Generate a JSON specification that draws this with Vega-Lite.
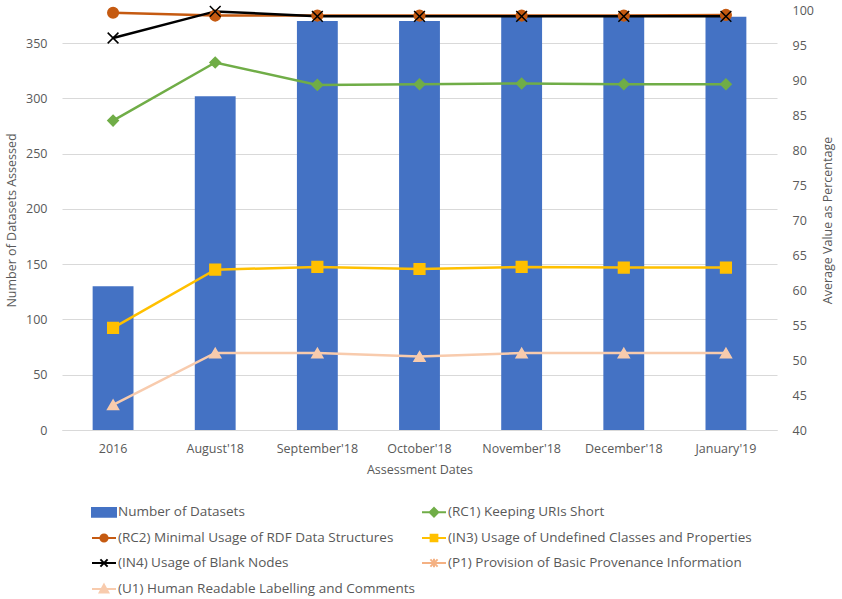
{
  "$schema": "https://vega.github.io/schema/vega-lite/v6.json",
  "width": 715,
  "height": 420,
  "autosize": "none",
  "padding": {"left": 62, "top": 10, "right": 65, "bottom": 169},
  "background": "white",
  "config": {
    "view": {"stroke": null},
    "font": "Open Sans",
    "axis": {"labelFont": "Open Sans", "titleFont": "Open Sans", "labelColor": "#595959", "titleColor": "#595959", "labelFontSize": 12.5, "titleFontSize": 12.5, "titleFontWeight": "normal", "ticks": false}
  },
  "data": {
    "values": [
      {"date": "2016", "series": "Number of Datasets", "value": 130},
      {"date": "August'18", "series": "Number of Datasets", "value": 302},
      {"date": "September'18", "series": "Number of Datasets", "value": 370},
      {"date": "October'18", "series": "Number of Datasets", "value": 370},
      {"date": "November'18", "series": "Number of Datasets", "value": 374},
      {"date": "December'18", "series": "Number of Datasets", "value": 374},
      {"date": "January'19", "series": "Number of Datasets", "value": 374},
      {"date": "2016", "series": "(RC1) Keeping URIs Short", "value": 84.2},
      {"date": "August'18", "series": "(RC1) Keeping URIs Short", "value": 92.5},
      {"date": "September'18", "series": "(RC1) Keeping URIs Short", "value": 89.3},
      {"date": "October'18", "series": "(RC1) Keeping URIs Short", "value": 89.4},
      {"date": "November'18", "series": "(RC1) Keeping URIs Short", "value": 89.5},
      {"date": "December'18", "series": "(RC1) Keeping URIs Short", "value": 89.4},
      {"date": "January'19", "series": "(RC1) Keeping URIs Short", "value": 89.4},
      {"date": "2016", "series": "(RC2) Minimal Usage of RDF Data Structures", "value": 99.6},
      {"date": "August'18", "series": "(RC2) Minimal Usage of RDF Data Structures", "value": 99.2},
      {"date": "September'18", "series": "(RC2) Minimal Usage of RDF Data Structures", "value": 99.2},
      {"date": "October'18", "series": "(RC2) Minimal Usage of RDF Data Structures", "value": 99.2},
      {"date": "November'18", "series": "(RC2) Minimal Usage of RDF Data Structures", "value": 99.2},
      {"date": "December'18", "series": "(RC2) Minimal Usage of RDF Data Structures", "value": 99.2},
      {"date": "January'19", "series": "(RC2) Minimal Usage of RDF Data Structures", "value": 99.3},
      {"date": "2016", "series": "(IN3) Usage of Undefined Classes and Properties", "value": 54.6},
      {"date": "August'18", "series": "(IN3) Usage of Undefined Classes and Properties", "value": 62.9},
      {"date": "September'18", "series": "(IN3) Usage of Undefined Classes and Properties", "value": 63.3},
      {"date": "October'18", "series": "(IN3) Usage of Undefined Classes and Properties", "value": 63.0},
      {"date": "November'18", "series": "(IN3) Usage of Undefined Classes and Properties", "value": 63.3},
      {"date": "December'18", "series": "(IN3) Usage of Undefined Classes and Properties", "value": 63.2},
      {"date": "January'19", "series": "(IN3) Usage of Undefined Classes and Properties", "value": 63.2},
      {"date": "2016", "series": "(IN4) Usage of Blank Nodes", "value": 96.0},
      {"date": "August'18", "series": "(IN4) Usage of Blank Nodes", "value": 99.8},
      {"date": "September'18", "series": "(IN4) Usage of Blank Nodes", "value": 99.1},
      {"date": "October'18", "series": "(IN4) Usage of Blank Nodes", "value": 99.1},
      {"date": "November'18", "series": "(IN4) Usage of Blank Nodes", "value": 99.1},
      {"date": "December'18", "series": "(IN4) Usage of Blank Nodes", "value": 99.1},
      {"date": "January'19", "series": "(IN4) Usage of Blank Nodes", "value": 99.1},
      {"date": "2016", "series": "(U1) Human Readable Labelling and Comments", "value": 43.6},
      {"date": "August'18", "series": "(U1) Human Readable Labelling and Comments", "value": 51.0},
      {"date": "September'18", "series": "(U1) Human Readable Labelling and Comments", "value": 51.0},
      {"date": "October'18", "series": "(U1) Human Readable Labelling and Comments", "value": 50.5},
      {"date": "November'18", "series": "(U1) Human Readable Labelling and Comments", "value": 51.0},
      {"date": "December'18", "series": "(U1) Human Readable Labelling and Comments", "value": 51.0},
      {"date": "January'19", "series": "(U1) Human Readable Labelling and Comments", "value": 51.0}
    ]
  },
  "encoding": {
    "x": {
      "field": "date", "type": "nominal",
      "sort": ["2016", "August'18", "September'18", "October'18", "November'18", "December'18", "January'19"],
      "scale": {"paddingInner": 0.6, "paddingOuter": 0.3},
      "axis": {"labelAngle": 0, "title": "Assessment Dates", "domainColor": "#D9D9D9", "labelPadding": 12, "titlePadding": 9}
    },
    "color": {
      "field": "series", "type": "nominal",
      "scale": {
        "domain": ["Number of Datasets", "(RC2) Minimal Usage of RDF Data Structures", "(IN4) Usage of Blank Nodes", "(U1) Human Readable Labelling and Comments", "(RC1) Keeping URIs Short", "(IN3) Usage of Undefined Classes and Properties", "(P1) Provision of Basic Provenance Information"],
        "range": ["#4472C4", "#C55A11", "#000000", "#F8CBAD", "#70AD47", "#FFC000", "#F4B183"]
      },
      "legend": {
        "title": null,
        "orient": "none",
        "legendX": 29,
        "legendY": 489,
        "columns": 2,
        "columnPadding": 3,
        "rowPadding": 4,
        "symbolSize": 576,
        "symbolStrokeWidth": 2,
        "labelFont": "Open Sans",
        "labelFontSize": 13.5,
        "labelColor": "#595959",
        "labelOffset": 1,
        "labelLimit": 400,
        "encode": {
          "symbols": {
            "update": {
              "shape": {"signal": "datum.value === 'Number of Datasets' ? 'M-1,-0.36H1V0.36H-1Z' : datum.value === '(RC1) Keeping URIs Short' ? 'M-1,0H1M0,-0.36L0.36,0L0,0.36L-0.36,0Z' : datum.value === '(RC2) Minimal Usage of RDF Data Structures' ? 'M-1,0H1M0.3,0A0.3,0.3,0,1,1,-0.3,0A0.3,0.3,0,1,1,0.3,0Z' : datum.value === '(IN3) Usage of Undefined Classes and Properties' ? 'M-1,0H1M-0.28,-0.28H0.28V0.28H-0.28Z' : datum.value === '(IN4) Usage of Blank Nodes' ? 'M-1,0H1M-0.3,-0.3L0.3,0.3M-0.3,0.3L0.3,-0.3' : datum.value === '(P1) Provision of Basic Provenance Information' ? 'M-1,0H1M0,-0.36V0.36M-0.3,-0.3L0.3,0.3M-0.3,0.3L0.3,-0.3' : 'M-1,0H1M0,-0.36L0.36,0.3H-0.36Z'"},
              "fill": {"signal": "scale('color', datum.value)"},
              "stroke": {"signal": "scale('color', datum.value)"},
              "strokeWidth": {"value": 2},
              "opacity": {"value": 1}
            }
          }
        }
      }
    }
  },
  "layer": [
    {
      "transform": [{"filter": "datum.series === 'Number of Datasets'"}],
      "mark": {"type": "bar", "color": "#4472C4"},
      "encoding": {
        "y": {
          "field": "value", "type": "quantitative",
          "scale": {"domain": [0, 380], "nice": false},
          "axis": {"orient": "left", "title": "Number of Datasets Assessed", "values": [0, 50, 100, 150, 200, 250, 300, 350], "grid": true, "gridColor": "#D9D9D9", "domain": false, "labelPadding": 15, "titlePadding": 7}
        }
      }
    },
    {
      "transform": [{"filter": "datum.series !== 'Number of Datasets'"}],
      "encoding": {
        "y": {
          "field": "value", "type": "quantitative",
          "scale": {"domain": [40, 100], "nice": false},
          "axis": {"orient": "right", "title": "Average Value as Percentage", "titleAngle": 270, "values": [40, 45, 50, 55, 60, 65, 70, 75, 80, 85, 90, 95, 100], "grid": false, "domain": false, "labelPadding": 15, "titlePadding": 21}
        }
      },
      "layer": [
        {"mark": {"type": "line", "strokeWidth": 2.5}},
        {
          "mark": {"type": "point", "filled": true, "opacity": 1, "strokeWidth": 1.5},
          "encoding": {
            "shape": {
              "field": "series", "type": "nominal", "legend": null,
              "scale": {
                "domain": ["(RC1) Keeping URIs Short", "(RC2) Minimal Usage of RDF Data Structures", "(IN3) Usage of Undefined Classes and Properties", "(IN4) Usage of Blank Nodes", "(P1) Provision of Basic Provenance Information", "(U1) Human Readable Labelling and Comments"],
                "range": ["diamond", "circle", "square", "M-1,-1L1,1M-1,1L1,-1", "M-1,0H1M0,-1V1M-0.7,-0.7L0.7,0.7M-0.7,0.7L0.7,-0.7", "triangle-up"]
              }
            },
            "size": {
              "field": "series", "type": "nominal", "legend": null,
              "scale": {
                "domain": ["(RC1) Keeping URIs Short", "(RC2) Minimal Usage of RDF Data Structures", "(IN3) Usage of Undefined Classes and Properties", "(IN4) Usage of Blank Nodes", "(P1) Provision of Basic Provenance Information", "(U1) Human Readable Labelling and Comments"],
                "range": [110, 120, 150, 150, 150, 170]
              }
            },
            "stroke": {"field": "series", "type": "nominal", "legend": null, "scale": {"domain": ["Number of Datasets", "(RC2) Minimal Usage of RDF Data Structures", "(IN4) Usage of Blank Nodes", "(U1) Human Readable Labelling and Comments", "(RC1) Keeping URIs Short", "(IN3) Usage of Undefined Classes and Properties", "(P1) Provision of Basic Provenance Information"], "range": ["#4472C4", "#C55A11", "#000000", "#F8CBAD", "#70AD47", "#FFC000", "#F4B183"]}}
          }
        }
      ]
    }
  ],
  "resolve": {"scale": {"y": "independent"}}
}
